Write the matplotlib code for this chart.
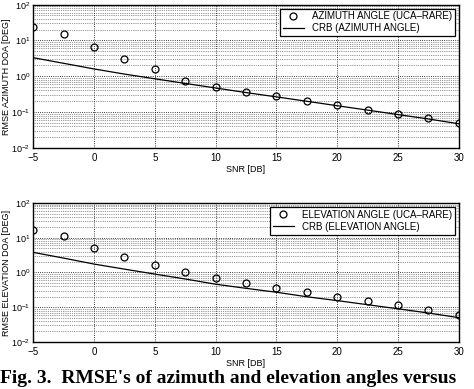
import numpy as np
import matplotlib
matplotlib.use('Agg')
import matplotlib.pyplot as plt
from matplotlib.ticker import LogLocator, NullFormatter

# SNR points (dB)
snr = [-5, -2.5, 0, 2.5, 5, 7.5, 10, 12.5, 15, 17.5, 20, 22.5, 25, 27.5, 30]

# azimuth: simulated RMSE and CRB (deg)
az_rmse = [23.5, 15.4, 6.6, 3.1, 1.55, 0.72, 0.49, 0.37, 0.275, 0.21, 0.155, 0.117, 0.087, 0.066, 0.049]
az_crb = [3.3, 2.3, 1.6, 1.15, 0.85, 0.63, 0.47, 0.35, 0.265, 0.2, 0.15, 0.113, 0.085, 0.064, 0.047]

# elevation: simulated RMSE and CRB (deg)
el_rmse = [17.0, 10.9, 5.0, 2.75, 1.65, 1.03, 0.68, 0.49, 0.355, 0.27, 0.2, 0.154, 0.113, 0.083, 0.059]
el_crb = [3.8, 2.6, 1.75, 1.25, 0.9, 0.65, 0.46, 0.35, 0.27, 0.2, 0.155, 0.118, 0.09, 0.068, 0.05]

xticks = [-5, 0, 5, 10, 15, 20, 25, 30]

plt.rcParams['font.family'] = 'Liberation Sans'
plt.rcParams['font.size'] = 6.5

fig = plt.figure(figsize=(4.74, 3.89), dpi=100)
ax1 = fig.add_axes([0.070, 0.620, 0.898, 0.368])
ax2 = fig.add_axes([0.070, 0.121, 0.898, 0.357])

def setup(ax, rmse, crb, lab_pts, lab_crb, ylab):
    ax.semilogy(snr, rmse, 'o', mfc='none', mec='black', ms=5, mew=0.9, label=lab_pts)
    ax.semilogy(snr, crb, '-', color='black', lw=0.9, label=lab_crb)
    ax.set_xlim(-5, 30)
    ax.set_ylim(1e-2, 1e2)
    ax.set_xticks(xticks)
    ax.yaxis.set_major_locator(LogLocator(base=10, numticks=10))
    ax.yaxis.set_minor_locator(LogLocator(base=10, subs=np.arange(2, 10), numticks=10))
    ax.yaxis.set_minor_formatter(NullFormatter())
    ax.grid(True, which='major', ls=':', color='black', lw=0.6)
    ax.grid(True, which='minor', axis='y', ls=':', color='#333333', lw=0.5)
    ax.tick_params(axis='y', which='both', direction='in', length=0, pad=2, labelsize=6.5)
    ax.tick_params(axis='x', which='both', direction='in', length=0, pad=4, labelsize=7)
    ax.set_ylabel(ylab, labelpad=0, fontsize=6.5)
    ax.set_xlabel('SNR [DB]', labelpad=1, fontsize=6.5)
    for s in ax.spines.values():
        s.set_linewidth(1.0)
    leg = ax.legend(loc='upper right', fancybox=False, framealpha=1, edgecolor='black',
                    borderpad=0.3, handlelength=2.2, labelspacing=0.2, borderaxespad=0.4,
                    fontsize=7)
    leg.get_frame().set_linewidth(0.9)

setup(ax1, az_rmse, az_crb, 'AZIMUTH ANGLE (UCA–RARE)', 'CRB (AZIMUTH ANGLE)',
      'RMSE AZIMUTH DOA [DEG]')
setup(ax2, el_rmse, el_crb, 'ELEVATION ANGLE (UCA–RARE)', 'CRB (ELEVATION ANGLE)',
      'RMSE ELEVATION DOA [DEG]')

fig.text(0.0, 1 - 370 / 389, "Fig. 3.  RMSE's of azimuth and elevation angles versus",
         family='Liberation Serif', fontsize=14, fontweight='bold', va='top', ha='left')

fig.savefig('out.png', dpi=100)
